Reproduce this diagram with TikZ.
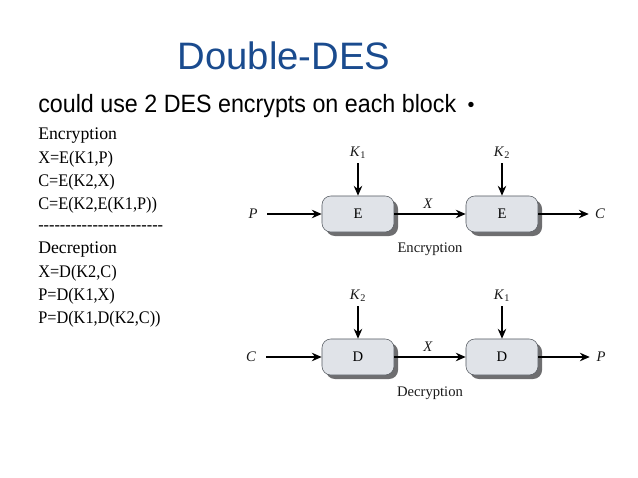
\documentclass[tikz,border=0pt]{standalone}
\usepackage{fontspec}
\usetikzlibrary{arrows.meta,shadows}
\newfontfamily\headfont{Liberation Sans}
\newfontfamily\slimfont[FakeStretch=0.93]{Liberation Sans}
\newfontfamily\notefont{Liberation Serif}
\newfontfamily\formulafont[FakeStretch=0.92]{Liberation Serif}
\definecolor{titleblue}{HTML}{1A4B8E}
\definecolor{boxfill}{HTML}{E0E3E8}
\definecolor{boxedge}{HTML}{555A60}
\definecolor{boxshade}{HTML}{6E6E70}
\tikzset{
    noteline/.style={right, inner sep=0pt, font=\notefont\fontsize{12.6}{15}\selectfont},
    formula/.style={right, inner sep=0pt, font=\formulafont\fontsize{12.6}{15}\selectfont},
    figlabel/.style={inner sep=0pt, text=black!90, font=\notefont\fontsize{10.4}{12}\selectfont},
    cipherbox/.style={draw=boxedge, fill=boxfill, rounded corners=0.22cm, minimum width=1.8cm,
        minimum height=0.9cm, inner sep=0pt, font=\notefont\fontsize{10.4}{12}\selectfont,
        drop shadow={shadow xshift=0.1cm, shadow yshift=-0.1cm, fill=boxshade, opacity=1}},
    flow/.style={line width=1.6pt, -{Stealth[length=7pt,width=6pt]}}
}
\newcommand{\keyname}[1]{\textit{K}\textsubscript{#1}}
\begin{document}
\begin{tikzpicture}[x=0.025cm, y=-0.025cm]
    \useasboundingbox (0, 0) rectangle (638, 478);
    \node[text=titleblue, font=\headfont\fontsize{27.2}{32}\selectfont] (title) at (284, 56) {Double-DES};
    \node[right, inner sep=0pt, font=\slimfont\fontsize{17.8}{21}\selectfont] (headline) at (38, 106.5) {could use 2 DES encrypts on each block};
    \node[inner sep=0pt, font=\headfont\fontsize{14}{16}\selectfont] (bullet) at (471, 107) {•};

    \node[noteline] (enchead) at (38, 136) {Encryption};
    \node[formula] (encx) at (38, 159) {X=E(K1,P)};
    \node[formula] (encc) at (38, 182) {C=E(K2,X)};
    \node[formula] (encall) at (38, 205) {C=E(K2,E(K1,P))};
    \node[formula] (rule) at (38, 228) {-----------------------};
    \node[noteline] (dechead) at (38, 250) {Decreption};
    \node[formula] (decx) at (38, 273) {X=D(K2,C)};
    \node[formula] (decp) at (38, 296) {P=D(K1,X)};
    \node[formula] (decall) at (38, 319) {P=D(K1,D(K2,C))};

    \node[cipherbox] (enca) at (358, 214) {E};
    \node[cipherbox] (encb) at (502, 214) {E};
    \node[figlabel, anchor=south] (keya) at (358, 159) {\keyname{1}};
    \node[figlabel, anchor=south] (keyb) at (502, 159) {\keyname{2}};
    \node[figlabel] (plain) at (253, 214) {\textit{P}};
    \node[figlabel] (cipher) at (600, 214) {\textit{C}};
    \node[figlabel] (midx) at (428, 204) {\textit{X}};
    \node[figlabel] (enccap) at (430, 249) {Encryption};
    \draw[flow, shorten <=10pt] (plain.center) -- (enca.west);
    \draw[flow] (enca.east) -- (encb.west);
    \draw[flow, shorten >=8pt] (encb.east) -- (cipher.center);
    \draw[flow, shorten <=3pt] (keya.south) -- (enca.north);
    \draw[flow, shorten <=3pt] (keyb.south) -- (encb.north);

    \node[cipherbox] (deca) at (358, 357) {D};
    \node[cipherbox] (decb) at (502, 357) {D};
    \node[figlabel, anchor=south] (keyc) at (358, 302) {\keyname{2}};
    \node[figlabel, anchor=south] (keyd) at (502, 302) {\keyname{1}};
    \node[figlabel] (cipherin) at (251, 357) {\textit{C}};
    \node[figlabel] (plainout) at (601, 357) {\textit{P}};
    \node[figlabel] (midy) at (428, 347) {\textit{X}};
    \node[figlabel] (deccap) at (430, 393) {Decryption};
    \draw[flow, shorten <=11pt] (cipherin.center) -- (deca.west);
    \draw[flow] (deca.east) -- (decb.west);
    \draw[flow, shorten >=8pt] (decb.east) -- (plainout.center);
    \draw[flow, shorten <=3pt] (keyc.south) -- (deca.north);
    \draw[flow, shorten <=3pt] (keyd.south) -- (decb.north);
\end{tikzpicture}
\end{document}
